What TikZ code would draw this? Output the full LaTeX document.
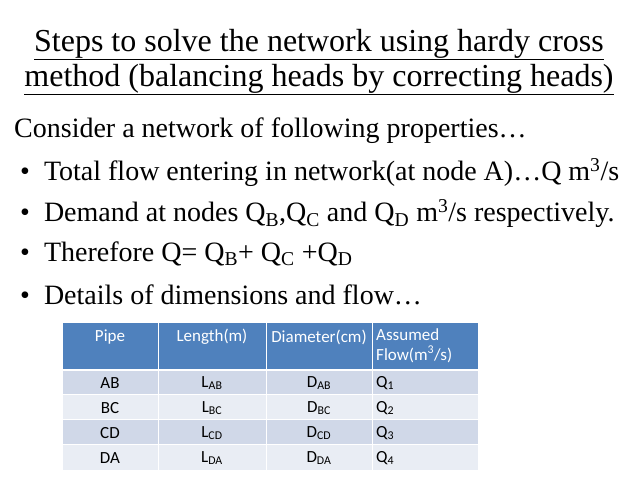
\documentclass[tikz,border=0pt]{standalone}
\usepackage{fontspec}
\setmainfont{Liberation Serif}
\newfontfamily\tabfont{Carlito}
\definecolor{hdr}{RGB}{79,129,189}
\definecolor{rowA}{RGB}{208,216,232}
\definecolor{rowB}{RGB}{233,237,244}
\begin{document}
\begin{tikzpicture}[x=1pt,y=-1pt,
  title/.style={font=\fontsize{32}{35}\selectfont,align=center},
  body/.style={font=\fontsize{28}{32}\selectfont,anchor=west,inner sep=0},
  cell/.style={font=\tabfont\fontsize{17}{20}\selectfont,inner sep=0},
  hcell/.style={cell,text=white}]
\useasboundingbox (0,0) rectangle (638,478);
\node[title] (t) at (319,62) {\underline{Steps to solve the network using hardy cross}\\\underline{method (balancing heads by correcting heads)}};
\node[body] (l0) at (14,131) {Consider a network of following properties\dots};
\node[body] (l1) at (20,173) {\textbullet\ \ Total flow entering in network(at node A)\dots Q m\textsuperscript{3}/s};
\node[body] (l2) at (20,214) {\textbullet\ \ Demand at nodes Q\textsubscript{B},Q\textsubscript{C} and Q\textsubscript{D} m\textsuperscript{3}/s respectively.};
\node[body] (l3) at (20,254) {\textbullet\ \ Therefore Q= Q\textsubscript{B}+ Q\textsubscript{C} +Q\textsubscript{D}};
\node[body] (l4) at (20,295) {\textbullet\ \ Details of dimensions and flow\dots};
% table
\fill[hdr] (63,323) rectangle (478,370);
\fill[rowA] (63,370) rectangle (478,395);
\fill[rowB] (63,395) rectangle (478,420);
\fill[rowA] (63,420) rectangle (478,445);
\fill[rowB] (63,445) rectangle (478,470);
\foreach \x in {158,266,372} \draw[white,line width=1pt] (\x,323) -- (\x,470);
\foreach \y in {370,395,420,445} \draw[white,line width=1pt] (63,\y) -- (478,\y);
\draw[white,line width=2pt] (63,370) -- (478,370);
\node[hcell] (h1) at (110,337) {Pipe};
\node[hcell] (h2) at (212,337) {Length(m)};
\node[hcell] (h3) at (319,337) {Diameter(cm)};
\node[hcell,anchor=north west,align=left] (h4) at (376,328) {Assumed\\Flow(m\textsuperscript{3}/s)};
\foreach \p [count=\i] in {AB,BC,CD,DA}{
  \pgfmathsetmacro{\yy}{383+25*(\i-1)}
  \node[cell] (p\i) at (110,\yy) {\p};
  \node[cell] (lL\i) at (212,\yy) {L\textsubscript{\p}};
  \node[cell] (d\i) at (319,\yy) {D\textsubscript{\p}};
  \node[cell,anchor=west] (q\i) at (376,\yy) {Q\textsubscript{\i}};
}
\end{tikzpicture}
\end{document}
